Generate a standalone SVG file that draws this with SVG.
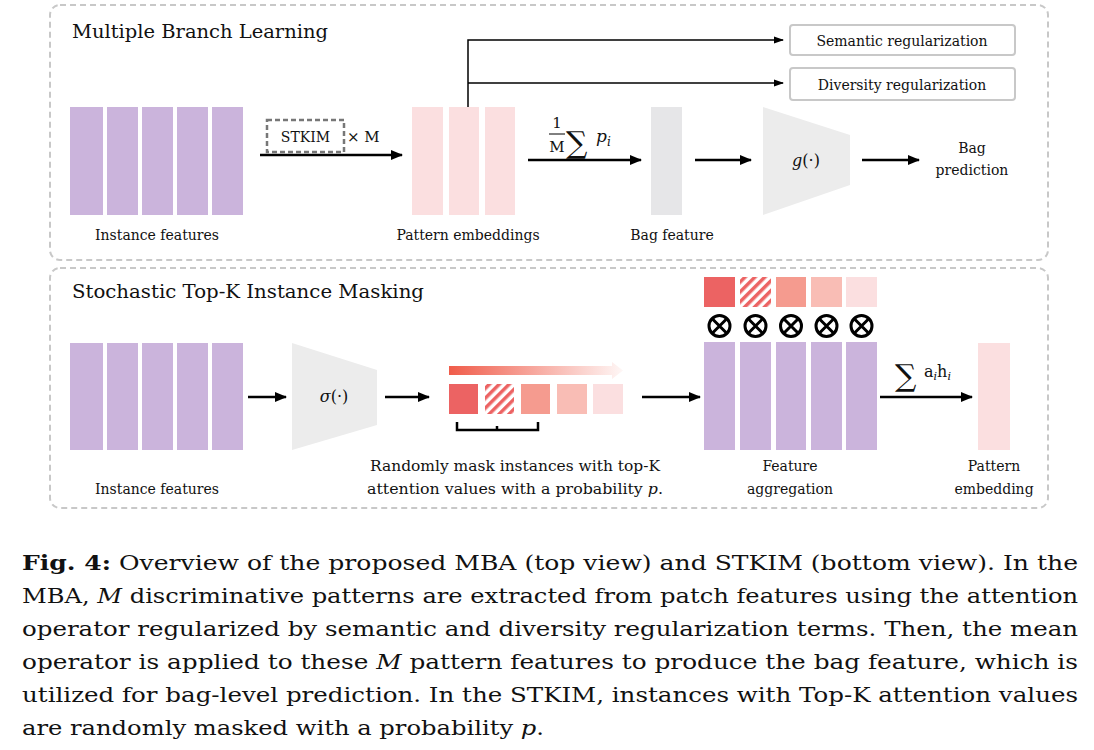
<svg xmlns="http://www.w3.org/2000/svg" width="1094" height="750" viewBox="0 0 1094 750" font-family="'DejaVu Serif', 'Liberation Serif', serif">
<style>
text{fill:#111}
.l{font-size:14px;text-anchor:middle}
.t{font-size:18px}
.frame{fill:none;stroke:#c8c8c8;stroke-width:2;stroke-dasharray:6 4}
.inst{fill:#cbb4dc}
.pat{fill:#fbdfe0}
.ln{stroke:#000;stroke-width:2.5;fill:none}
.thin{stroke:#000;stroke-width:1.5;fill:none}
.reg{fill:#fff;stroke:#c8c8c8;stroke-width:2}
</style>
<defs>
<marker id="ah" viewBox="0 0 10 10" refX="9" refY="5" markerWidth="5" markerHeight="5" orient="auto"><path d="M0,1 L10,5 L0,9 z" fill="#000"/></marker>
<marker id="ahs" viewBox="0 0 10 10" refX="9" refY="5" markerWidth="7" markerHeight="7" orient="auto"><path d="M0,1.5 L10,5 L0,8.5 z" fill="#000"/></marker>
<linearGradient id="gr" x1="0" x2="1"><stop offset="0" stop-color="#f05c4a"/><stop offset="1" stop-color="#f05c4a" stop-opacity="0.05"/></linearGradient>
<pattern id="hatch" width="7" height="7" patternUnits="userSpaceOnUse" patternTransform="rotate(45)"><rect width="7" height="7" fill="#fff"/><rect width="3.5" height="7" fill="#ec6363"/></pattern>
</defs>
<g id="frames">
<rect class="frame" x="50" y="5" width="998" height="255" rx="10"/>
<rect class="frame" x="50" y="268" width="998" height="240" rx="10"/>
<text class="t" x="72" y="38" textLength="256" lengthAdjust="spacingAndGlyphs">Multiple Branch Learning</text>
<text class="t" x="72" y="298" textLength="352" lengthAdjust="spacingAndGlyphs">Stochastic Top-K Instance Masking</text>
</g>
<g id="top-instance">
<rect class="inst" x="70" y="107" width="33" height="108"/><rect class="inst" x="107" y="107" width="31" height="108"/><rect class="inst" x="142" y="107" width="31" height="108"/><rect class="inst" x="177" y="107" width="31" height="108"/><rect class="inst" x="212" y="107" width="31" height="108"/>
<text class="l" x="157" y="240">Instance features</text>
</g>
<g id="stkim-box">
<rect x="267" y="120" width="77" height="32" fill="none" stroke="#777" stroke-width="2.5" stroke-dasharray="5 3"/>
<text x="305.5" y="142" style="font-size:14px;text-anchor:middle">STKIM</text>
<text x="347" y="142" style="font-size:15px">× M</text>
</g>
<g id="pattern-embeddings">
<rect class="pat" x="412" y="107" width="31" height="108"/><rect class="pat" x="449" y="107" width="30" height="108"/><rect class="pat" x="485" y="107" width="30" height="108"/>
<text class="l" x="468" y="240">Pattern embeddings</text>
</g>
<g id="semantic"><rect class="reg" x="790" y="25" width="225" height="30" rx="3"/><text class="l" x="902" y="46">Semantic regularization</text></g>
<g id="diversity"><rect class="reg" x="790" y="68" width="225" height="32" rx="3"/><text class="l" x="902" y="90">Diversity regularization</text></g>
<g id="formula">
<text x="557" y="128" style="font-size:15px;text-anchor:middle">1</text>
<line x1="549" y1="134" x2="565" y2="134" stroke="#000" stroke-width="1"/>
<text x="557" y="152" style="font-size:15px;text-anchor:middle">M</text>
<text x="566" y="153" style="font-size:30px">∑</text>
<text x="596" y="142" style="font-size:17px;font-style:italic">p<tspan style="font-size:12px" dy="4">i</tspan></text>
</g>
<g id="bag-feature"><rect x="651" y="107" width="31" height="108" fill="#e6e6e8"/><text class="l" x="672" y="240">Bag feature</text></g>
<g id="g-func"><path d="M763,107 L850,135 L850,185 L763,215 z" fill="#ececec"/><text x="806" y="166" style="font-size:16px;text-anchor:middle"><tspan font-style="italic">g</tspan>(·)</text></g>
<g id="bag-prediction"><text class="l" x="972" y="153">Bag</text><text class="l" x="972" y="175">prediction</text></g>

<g id="bot-instance">
<rect class="inst" x="70" y="343" width="33" height="107"/><rect class="inst" x="107" y="343" width="31" height="107"/><rect class="inst" x="142" y="343" width="31" height="107"/><rect class="inst" x="177" y="343" width="31" height="107"/><rect class="inst" x="212" y="343" width="31" height="107"/>
<text class="l" x="157" y="494">Instance features</text>
</g>
<g id="sigma"><path d="M292,343 L377,370 L377,425 L292,450 z" fill="#ececec"/><text x="334" y="402" style="font-size:16px;text-anchor:middle"><tspan font-style="italic">σ</tspan>(·)</text></g>
<g id="masking">
<path d="M449,366 L612,366 L612,362 L623,370.5 L612,379 L612,375 L449,375 z" fill="url(#gr)"/>
<rect x="449" y="384" width="29" height="30" fill="#ec6363"/><rect x="485" y="384" width="29" height="30" fill="url(#hatch)"/><rect x="521" y="384" width="29" height="30" fill="#f59b8f"/><rect x="557" y="384" width="30" height="30" fill="#f9bdb5"/><rect x="593" y="384" width="30" height="30" fill="#fbdfe0"/>
<path d="M457,422 L457,430 L538,430 L538,422 M497,430 L497,426" fill="none" stroke="#000" stroke-width="2.5"/>
<text class="l" x="515" y="471" textLength="290" lengthAdjust="spacingAndGlyphs">Randomly mask instances with top-K</text>
<text class="l" x="515" y="494" textLength="296" lengthAdjust="spacingAndGlyphs">attention values with a probability <tspan font-style="italic">p</tspan>.</text>
</g>
<g id="aggregation">
<rect x="704" y="277" width="31" height="30" fill="#ec6363"/><rect x="740" y="277" width="31" height="30" fill="url(#hatch)"/><rect x="776" y="277" width="30" height="30" fill="#f59b8f"/><rect x="811" y="277" width="31" height="30" fill="#f9bdb5"/><rect x="846" y="277" width="31" height="30" fill="#fbdfe0"/>
<g stroke="#000" stroke-width="3" fill="none">
<circle cx="719.5" cy="326" r="10.5"/><path d="M712,318.5 L727,333.5 M727,318.5 L712,333.5"/>
<circle cx="755.5" cy="326" r="10.5"/><path d="M748,318.5 L763,333.5 M763,318.5 L748,333.5"/>
<circle cx="791" cy="326" r="10.5"/><path d="M783.5,318.5 L798.5,333.5 M798.5,318.5 L783.5,333.5"/>
<circle cx="826.5" cy="326" r="10.5"/><path d="M819,318.5 L834,333.5 M834,318.5 L819,333.5"/>
<circle cx="861.5" cy="326" r="10.5"/><path d="M854,318.5 L869,333.5 M869,318.5 L854,333.5"/>
</g>
<rect class="inst" x="704" y="342" width="31" height="108"/><rect class="inst" x="740" y="342" width="31" height="108"/><rect class="inst" x="776" y="342" width="30" height="108"/><rect class="inst" x="811" y="342" width="31" height="108"/><rect class="inst" x="846" y="342" width="31" height="108"/>
<text class="l" x="790" y="471">Feature</text><text class="l" x="790" y="494">aggregation</text>
</g>
<g id="sum-label"><text x="895" y="386" style="font-size:30px">∑</text><text x="924" y="377" style="font-size:16px">a<tspan font-style="italic" font-size="11" dy="3">i</tspan><tspan dy="-3">h</tspan><tspan font-style="italic" font-size="11" dy="3">i</tspan></text></g>
<g id="pattern-embedding"><rect class="pat" x="978" y="343" width="32" height="107"/><text class="l" x="994" y="471">Pattern</text><text class="l" x="994" y="494">embedding</text></g>

<g id="connectors">
<line class="ln" x1="260" y1="155" x2="402" y2="155" marker-end="url(#ah)"/>
<path class="thin" d="M468,107 L468,40 L783,40" marker-end="url(#ahs)"/>
<path class="thin" d="M468,83 L783,83" marker-end="url(#ahs)"/>
<line class="ln" x1="528" y1="160" x2="641" y2="160" marker-end="url(#ah)"/>
<line class="ln" x1="695" y1="160" x2="751" y2="160" marker-end="url(#ah)"/>
<line class="ln" x1="862" y1="160" x2="919" y2="160" marker-end="url(#ah)"/>
<line class="ln" x1="248" y1="397" x2="286" y2="397" marker-end="url(#ah)"/>
<line class="ln" x1="385" y1="397" x2="429" y2="397" marker-end="url(#ah)"/>
<line class="ln" x1="642" y1="397" x2="700" y2="397" marker-end="url(#ah)"/>
<line class="ln" x1="880" y1="397" x2="972" y2="397" marker-end="url(#ah)"/>
</g>
<g id="caption" font-size="21">
<text x="22" y="570" textLength="1056" lengthAdjust="spacingAndGlyphs"><tspan font-weight="bold">Fig. 4:</tspan> Overview of the proposed MBA (top view) and STKIM (bottom view). In the</text>
<text x="22" y="603" textLength="1056" lengthAdjust="spacingAndGlyphs">MBA, <tspan font-style="italic">M</tspan> discriminative patterns are extracted from patch features using the attention</text>
<text x="22" y="636" textLength="1056" lengthAdjust="spacingAndGlyphs">operator regularized by semantic and diversity regularization terms. Then, the mean</text>
<text x="22" y="669" textLength="1056" lengthAdjust="spacingAndGlyphs">operator is applied to these <tspan font-style="italic">M</tspan> pattern features to produce the bag feature, which is</text>
<text x="22" y="702" textLength="1056" lengthAdjust="spacingAndGlyphs">utilized for bag-level prediction. In the STKIM, instances with Top-K attention values</text>
<text x="22" y="735" textLength="522" lengthAdjust="spacingAndGlyphs">are randomly masked with a probability <tspan font-style="italic">p</tspan>.</text>
</g>
</svg>
